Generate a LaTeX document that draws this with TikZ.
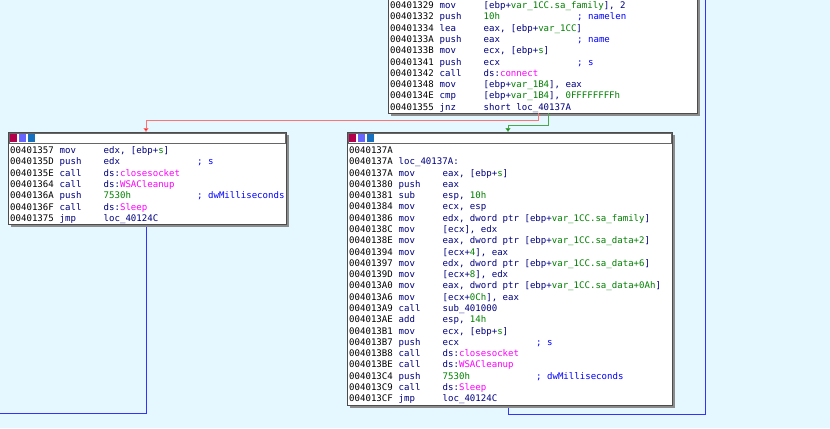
\documentclass[tikz,border=0pt]{standalone}
\usepackage{fontspec}
\setmonofont{DejaVu Sans Mono}
\usetikzlibrary{arrows.meta}
\definecolor{bg}{HTML}{E6F8FF}
\definecolor{ink}{HTML}{000080}
\definecolor{gr}{HTML}{008000}
\definecolor{mg}{HTML}{FF00FF}
\definecolor{cm}{HTML}{0000FF}
\definecolor{edgeb}{HTML}{3333FF}
\newcommand\gn[1]{\textcolor{gr}{#1}}
\newcommand\api[1]{ds:\textcolor{mg}{#1}}
\newcommand\cmt[1]{\textcolor{cm}{#1}}
\newcommand\asml[4]{\makebox[49.5bp][l]{\textcolor{black}{#1}}\makebox[44bp][l]{#2}\makebox[93.5bp][l]{#3}\cmt{#4}\\}
\tikzset{
 blk/.style={draw=black!70,fill=white,line width=0.6pt,anchor=north west,inner sep=0pt},
 shadow/.style={fill=black!45},
 code/.style={anchor=north west,inner sep=0pt,align=left,text=ink,font=\ttfamily\fontsize{9.1}{11.33}\selectfont},
 hdr/.style={draw=black!60,fill=white,line width=0.5pt},
 blue/.style={draw=edgeb,line width=1pt},
 redl/.style={draw=red!55,line width=0.8pt},
 grnl/.style={draw=green!50!black!70,line width=0.8pt},
}
\begin{document}
\begin{tikzpicture}[x=1bp,y=-1bp]
\useasboundingbox (0,0) rectangle (830,428);
\fill[bg] (0,0) rectangle (830,428);
% blue back edges
\coordinate (lb) at (146,224);
\coordinate (rb) at (508,405);
\coordinate (lend) at (0,413);
\coordinate (rtop) at (705,0);
\draw[blue] (lb) |- (lend);
\draw[blue] (rb) -- (508,414) -| (rtop);
% top block
\fill[shadow] (391,-5) rectangle (700,116);
\node[blk,minimum width=309bp,minimum height=118bp] (top) at (388,-5) {};
\node[code] (topt) at (390,1.5) {%
\asml{00401329}{mov}{[ebp+\gn{var\_1CC.sa\_family}], 2}{}
\asml{00401332}{push}{\gn{10h}}{; namelen}
\asml{00401334}{lea}{eax, [ebp+\gn{var\_1CC}]}{}
\asml{0040133A}{push}{eax}{; name}
\asml{0040133B}{mov}{ecx, [ebp+\gn{s}]}{}
\asml{00401341}{push}{ecx}{; s}
\asml{00401342}{call}{\api{connect}}{}
\asml{00401348}{mov}{[ebp+\gn{var\_1B4}], eax}{}
\asml{0040134E}{cmp}{[ebp+\gn{var\_1B4}], \gn{0FFFFFFFFh}}{}
\asml{00401355}{jnz}{short loc\_40137A}{}
};
% left block
\fill[shadow] (11,135) rectangle (289,227);
\node[blk,minimum width=278bp,minimum height=92bp] (lft) at (8,132) {};
\draw[hdr] (9,133) rectangle (285,143);
\fill[red!70!blue] (10,134) rectangle (17,142);
\fill[blue!60] (19,134) rectangle (26,142);
\fill[cyan!50!blue] (28,134) rectangle (35,142);
\node[code] (lftt) at (10,146.5) {%
\asml{00401357}{mov}{edx, [ebp+\gn{s}]}{}
\asml{0040135D}{push}{edx}{; s}
\asml{0040135E}{call}{\api{closesocket}}{}
\asml{00401364}{call}{\api{WSACleanup}}{}
\asml{0040136A}{push}{\gn{7530h}}{; dwMilliseconds}
\asml{0040136F}{call}{\api{Sleep}}{}
\asml{00401375}{jmp}{loc\_40124C}{}
};
% right block
\fill[shadow] (350,135) rectangle (675,408);
\node[blk,minimum width=325bp,minimum height=273bp] (rgt) at (347,132) {};
\draw[hdr] (348,133) rectangle (671,143);
\fill[red!70!blue] (349,134) rectangle (356,142);
\fill[blue!60] (358,134) rectangle (365,142);
\fill[cyan!50!blue] (367,134) rectangle (374,142);
\node[code] (rgtt) at (349,146.5) {%
\asml{0040137A}{}{}{}
\asml{0040137A}{loc\_40137A:}{}{}
\asml{0040137A}{mov}{eax, [ebp+\gn{s}]}{}
\asml{00401380}{push}{eax}{}
\asml{00401381}{sub}{esp, \gn{10h}}{}
\asml{00401384}{mov}{ecx, esp}{}
\asml{00401386}{mov}{edx, dword ptr [ebp+\gn{var\_1CC.sa\_family}]}{}
\asml{0040138C}{mov}{[ecx], edx}{}
\asml{0040138E}{mov}{eax, dword ptr [ebp+\gn{var\_1CC.sa\_data+2}]}{}
\asml{00401394}{mov}{[ecx+\gn{4}], eax}{}
\asml{00401397}{mov}{edx, dword ptr [ebp+\gn{var\_1CC.sa\_data+6}]}{}
\asml{0040139D}{mov}{[ecx+\gn{8}], edx}{}
\asml{004013A0}{mov}{eax, dword ptr [ebp+\gn{var\_1CC.sa\_data+0Ah}]}{}
\asml{004013A6}{mov}{[ecx+\gn{0Ch}], eax}{}
\asml{004013A9}{call}{sub\_401000}{}
\asml{004013AE}{add}{esp, \gn{14h}}{}
\asml{004013B1}{mov}{ecx, [ebp+\gn{s}]}{}
\asml{004013B7}{push}{ecx}{; s}
\asml{004013B8}{call}{\api{closesocket}}{}
\asml{004013BE}{call}{\api{WSACleanup}}{}
\asml{004013C4}{push}{\gn{7530h}}{; dwMilliseconds}
\asml{004013C9}{call}{\api{Sleep}}{}
\asml{004013CF}{jmp}{loc\_40124C}{}
};
% branch edges
\coordinate (rs) at (538,113);
\coordinate (gs) at (548,113);
\coordinate (lin) at (146,132);
\coordinate (rin) at (508,132);
\draw[redl,-{Triangle[length=4bp,width=5bp,fill=red]}] (rs) -- (538,120) -| (lin);
\draw[grnl,-{Triangle[length=4bp,width=5bp,fill=green!50!black]}] (gs) -- (548,125) -| (rin);
\end{tikzpicture}
\end{document}
